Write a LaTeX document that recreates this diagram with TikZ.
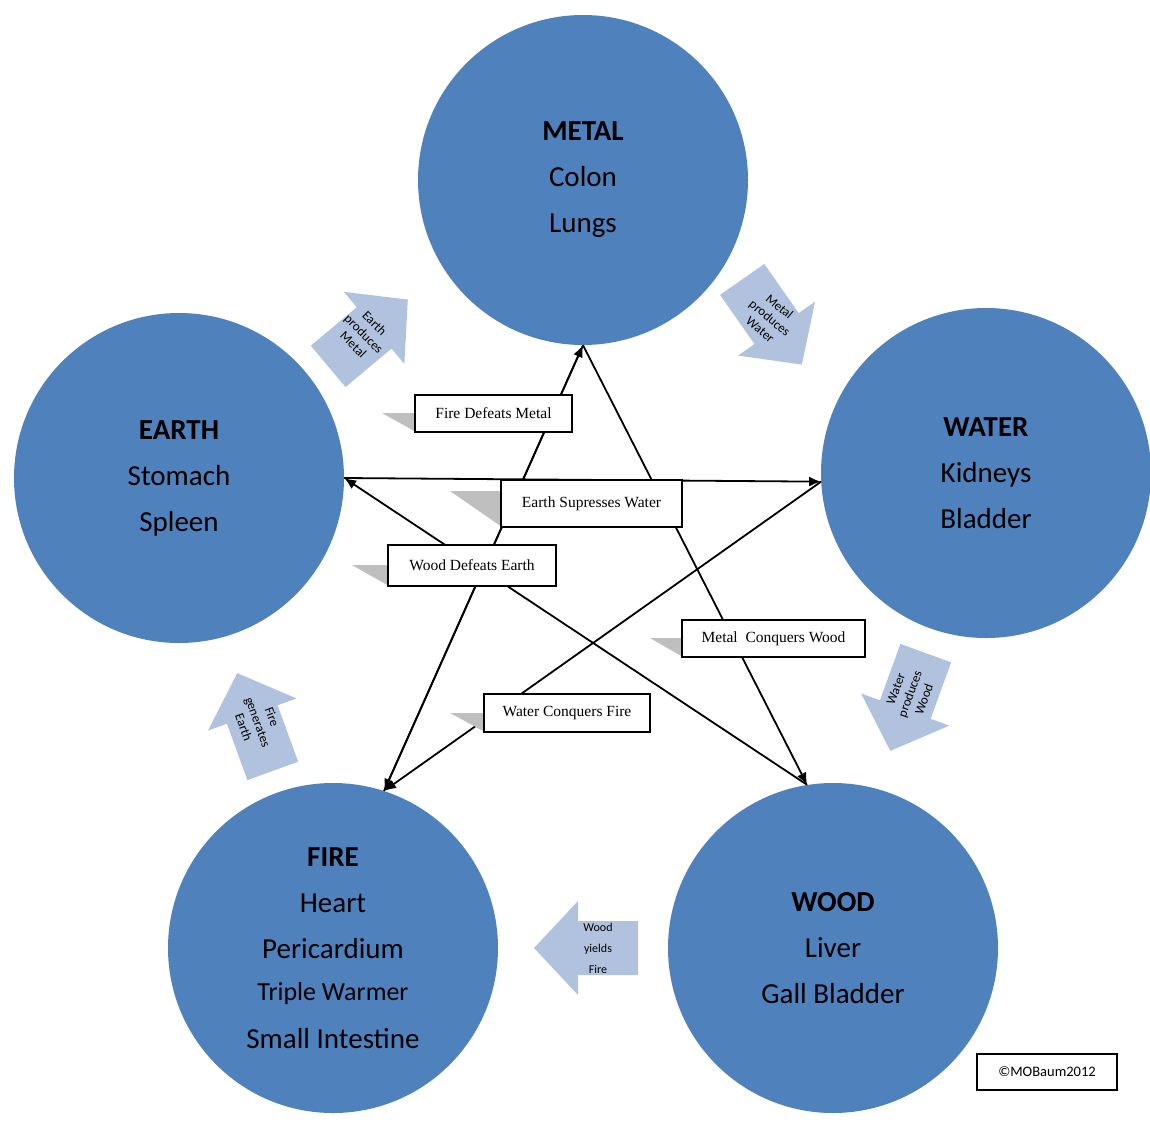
\documentclass[tikz,border=0pt]{standalone}
\usepackage{fontspec}
\setmainfont{Carlito}
\newfontfamily\tnr{Liberation Serif}
\usetikzlibrary{arrows.meta}
\definecolor{cblue}{HTML}{4F81BD}
\definecolor{ablue}{HTML}{B0C2DE}
\begin{document}
\begin{tikzpicture}[x=1pt,y=-1pt,
 el/.style={circle,fill=cblue,minimum size=330pt,inner sep=0pt,font=\fontsize{29}{46}\selectfont,align=center},
 lbl/.style={draw,line width=1.3pt,fill=white,font=\tnr\fontsize{15.5}{18}\selectfont,minimum height=37pt,inner xsep=6pt},
 bt/.style={font=\fontsize{13}{15}\selectfont,align=center},
 con/.style={line width=1.8pt,-{Latex[length=12pt,width=10pt]}}]
\useasboundingbox (0,0) rectangle (1150,1136);
\node[el] (metal) at (583,180) {\textbf{METAL}\\Colon\\Lungs};
\node[el] (earth) at (179,478) {\textbf{EARTH}\\Stomach\\Spleen};
\node[el] (water) at (986,473) {\textbf{WATER}\\Kidneys\\Bladder};
\node[el] (fire) at (333,948) {\textbf{FIRE}\\Heart\\Pericardium\\[-4pt]{\fontsize{26}{30}\selectfont Triple Warmer}\\[2pt]Small Intestine};
\node[el] (wood) at (833,948) {\textbf{WOOD}\\Liver\\Gall Bladder};
% block arrows
\def\blk#1#2#3{\fill[ablue,shift={(#1,#2)},rotate=#3] (-52,-27) -- (8,-27) -- (8,-47) -- (52,0) -- (8,47) -- (8,27) -- (-52,27) -- cycle;}
\blk{368}{333}{40}
\node[bt,rotate=-45] at (364,334) {Earth\\produces\\Metal};
\blk{772}{322}{-55}
\node[bt,rotate=-40] at (770,318) {Metal\\produces\\Water};
\blk{908}{702}{-110}
\node[bt,rotate=70] at (910,694) {Water\\produces\\Wood};
\blk{586}{948}{180}
\node[bt,font=\fontsize{12}{21}\selectfont] at (598,948) {Wood\\yields\\Fire};
\blk{255}{722}{110}
\node[bt,rotate=-70] at (258,722) {Fire\\generates\\Earth};
% connectors
\draw[con] (fire.72) -- (metal.south);
\draw[con] (metal.south) -- (fire.72);
\draw[con] (metal.south) -- (wood.99);
\draw[con] (water.183) -- (fire.72);
\draw[con] (wood.99) -- (earth.east);
\draw[con] (earth.east) -- (water.183);
% label boxes with shadows
\fill[gray!50] (382,413) -- (416,413) -- (416,432) -- cycle;
\node[lbl,minimum width=157pt] (l1) at (493.5,413.5) {Fire Defeats Metal};
\fill[gray!50] (450,491) -- (502,491) -- (502,527) -- cycle;
\node[lbl,minimum width=181pt,minimum height=47pt] (l2) at (591.5,503.5) {Earth Supresses Water};
\fill[gray!50] (352,565) -- (389,565) -- (389,586) -- cycle;
\node[lbl,minimum width=168pt,minimum height=41pt] (l3) at (472,565.5) {Wood Defeats Earth};
\fill[gray!50] (650,638) -- (683,638) -- (683,657) -- cycle;
\node[lbl,minimum width=183pt] (l4) at (773.5,638.5) {Metal\ \ Conquers Wood};
\fill[gray!50] (450,713) -- (485,713) -- (485,732) -- cycle;
\node[lbl,minimum width=166pt,minimum height=38pt] (l5) at (567,713) {Water Conquers Fire};
\node[draw,line width=1.2pt,minimum width=140pt,minimum height=36pt,font=\fontsize{14.5}{16}\selectfont] (copy) at (1047,1072) {\copyright MOBaum2012};
\end{tikzpicture}
\end{document}
